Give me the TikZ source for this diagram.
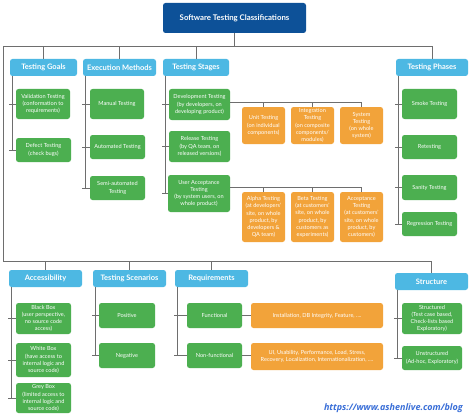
\documentclass[tikz,border=0pt]{standalone}
\usepackage{fontspec}
\setmainfont{Lato}
\newfontfamily\urlfont{Open Sans}
\definecolor{rootc}{HTML}{0D5198}
\definecolor{catc}{HTML}{4DB8E3}
\definecolor{grc}{HTML}{4CAF50}
\definecolor{orc}{HTML}{F2A33A}
\definecolor{lnc}{HTML}{6E6E6E}
\definecolor{urlc}{HTML}{3A6FD8}
\newcommand\mkbox[7]{%
  \pgfmathsetmacro\bw{#5-#3}\pgfmathsetmacro\bh{#6-#4}%
  \pgfmathsetmacro\bcx{(#3+#5)/2}\pgfmathsetmacro\bcy{(#4+#6)/2}%
  \node[#1, minimum width=\bw pt, minimum height=\bh pt] (#2) at (\bcx,\bcy) {#7};}
\begin{document}
\begin{tikzpicture}[x=1pt,y=-1pt,
  base/.style={rounded corners=2.5pt, inner sep=0pt, align=center, text=white},
  rootbox/.style={base, fill=rootc, font=\fontsize{7.8}{9}\selectfont\bfseries},
  catbox/.style={base, fill=catc, font=\fontsize{7.5}{9}\selectfont\bfseries},
  grbox/.style={base, fill=grc, font=\fontsize{5.6}{7.2}\selectfont},
  orbox/.style={base, fill=orc, font=\fontsize{5.6}{7.2}\selectfont},
  conn/.style={draw=lnc, line width=0.7pt},
  tick/.style={conn}]
\useasboundingbox[fill=white] (0,0) rectangle (474,420);
% root
\mkbox{rootbox}{root}{163}{3}{306}{33}{Software Testing Classifications}
% categories
\mkbox{catbox}{goals}{10}{59}{77}{76}{Testing Goals}
\mkbox{catbox}{exec}{83}{59}{156}{76}{Execution Methods}
\mkbox{catbox}{stages}{163}{59}{229}{76}{Testing Stages}
\mkbox{catbox}{phases}{396}{59}{468}{76}{Testing Phases}
\mkbox{catbox}{access}{9}{270}{82}{287}{Accessibility}
\mkbox{catbox}{scen}{93}{270}{166}{287}{Testing Scenarios}
\mkbox{catbox}{req}{175}{270}{248}{287}{Requirements}
\mkbox{catbox}{struct}{395}{273}{468}{290}{Structure}
% testing goals
\mkbox{grbox}{valid}{16}{89}{70}{119}{Validation Testing\\(conformation to\\requirements)}
\mkbox{grbox}{defect}{16}{138}{71}{162}{Defect Testing\\(check bugs)}
% execution methods
\mkbox{grbox}{manual}{90}{89}{144}{119}{Manual Testing}
\mkbox{grbox}{auto}{90}{135}{145}{159}{Automated Testing}
\mkbox{grbox}{semi}{90}{176}{145}{200}{Semi-automated\\Testing}
% testing stages
\mkbox{grbox}{dev}{169}{89}{230}{120}{Development Testing\\(by developers, on\\developing product)}
\mkbox{grbox}{rel}{169}{131}{230}{162}{Release Testing\\(by QA team, on\\released versions)}
\mkbox{grbox}{uat}{168}{175}{230}{212}{User Acceptance\\Testing\\(by system users, on\\whole product)}
\mkbox{orbox}{unit}{242}{107}{285}{144}{Unit Testing\\(on individual\\components)}
\mkbox{orbox}{integ}{291}{107}{334}{144}{Integration\\Testing\\(on composite\\components/\\modules)}
\mkbox{orbox}{sys}{340}{107}{383}{144}{System\\Testing\\(on whole\\system)}
\mkbox{orbox}{alpha}{242}{192}{285}{242}{Alpha Testing\\(at developers'\\site, on whole\\product, by\\developers \&\\QA team)}
\mkbox{orbox}{beta}{291}{192}{334}{242}{Beta Testing\\(at customers'\\site, on whole\\product, by\\customers as\\experiments)}
\mkbox{orbox}{accept}{340}{192}{383}{242}{Acceptance\\Testing\\(at customers'\\site, on whole\\product, by\\customers)}
% testing phases
\mkbox{grbox}{smoke}{402}{89}{457}{119}{Smoke Testing}
\mkbox{grbox}{retest}{402}{135}{457}{159}{Retesting}
\mkbox{grbox}{sanity}{402}{175}{457}{200}{Sanity Testing}
\mkbox{grbox}{regr}{402}{212}{457}{236}{Regression Testing}
% accessibility
\mkbox{grbox}{black}{16}{303}{71}{334}{Black Box\\(user perspective,\\no source code\\access)}
\mkbox{grbox}{white}{16}{343}{71}{377}{White Box\\(have access to\\internal logic and\\source code)}
\mkbox{grbox}{grey}{16}{383}{71}{413}{Grey Box\\(limited access to\\internal logic and\\source code)}
% scenarios
\mkbox{grbox}{pos}{99}{303}{155}{328}{Positive}
\mkbox{grbox}{neg}{99}{343}{155}{368}{Negative}
% requirements
\mkbox{grbox}{func}{187}{303}{242}{328}{Functional}
\mkbox{grbox}{nonfunc}{187}{343}{242}{368}{Non-functional}
\mkbox{orbox}{funcx}{251}{303}{383}{328}{Installation, DB Integrity, Feature, ....}
\mkbox{orbox}{nonfuncx}{251}{343}{383}{370}{UI, Usability, Performance, Load, Stress,\\Recovery, Localization, Internationalization, ....}
% structure
\mkbox{grbox}{structd}{402}{303}{462}{334}{Structured\\(Test case based,\\Check-lists based\\Exploratory)}
\mkbox{grbox}{unstr}{402}{346}{462}{370}{Unstructured\\(Ad-hoc, Exploratory)}
% url
\node[font=\urlfont\bfseries\itshape\fontsize{9}{11}\selectfont, text=urlc, anchor=east, inner sep=0pt] (url) at (463,408) {https://www.ashenlive.com/blog};
% ---- connectors ----
\coordinate (b1) at (3,46);
\coordinate (b2) at (3,261);
\draw[conn] (root.south) -- (root.south |- b1);
\draw[conn] (phases.north) -- (phases.north |- b1) -- (b1) -- (b2) -- (struct.north |- b2) -- (struct.north);
\foreach \c in {goals,exec,stages}{\draw[conn] (\c.north) -- (\c.north |- b1);}
\foreach \c in {access,scen,req}{\draw[conn] (\c.north) -- (\c.north |- b2);}
% vertical trunks with ticks
\newcommand\trunk[3]{% #1 parent, #2 last child, #3 list of children
  \draw[conn] ([xshift=2.5pt]#1.south west) -- ([xshift=2.5pt]#1.south west |- #2.west);
  \foreach \ch in {#3}{\draw[conn] ([xshift=-0.5pt]#1.south west |- \ch.west) -- (\ch.west);}}
\trunk{goals}{defect}{valid,defect}
\trunk{exec}{semi}{manual,auto,semi}
\trunk{stages}{uat}{dev,rel,uat}
\trunk{phases}{regr}{smoke,retest,sanity,regr}
\trunk{access}{grey}{black,white,grey}
\trunk{scen}{neg}{pos,neg}
\trunk{req}{nonfunc}{func,nonfunc}
\trunk{struct}{unstr}{structd,unstr}
% sub-branches
\coordinate (d1) at ([yshift=2.5pt]dev.east);
\draw[conn] (d1) -- (sys.north |- d1);
\foreach \c in {unit,integ,sys}{\draw[conn] (\c.north) -- (\c.north |- d1);}
\coordinate (u1) at ([yshift=6.5pt]uat.east);
\draw[conn] (u1) -- (accept.north |- u1);
\foreach \c in {alpha,beta,accept}{\draw[conn] (\c.north) -- (\c.north |- u1);}
\draw[conn] (func.east) -- (funcx.west |- func.east);
\draw[conn] (nonfunc.east) -- (nonfuncx.west |- nonfunc.east);
\end{tikzpicture}
\end{document}
